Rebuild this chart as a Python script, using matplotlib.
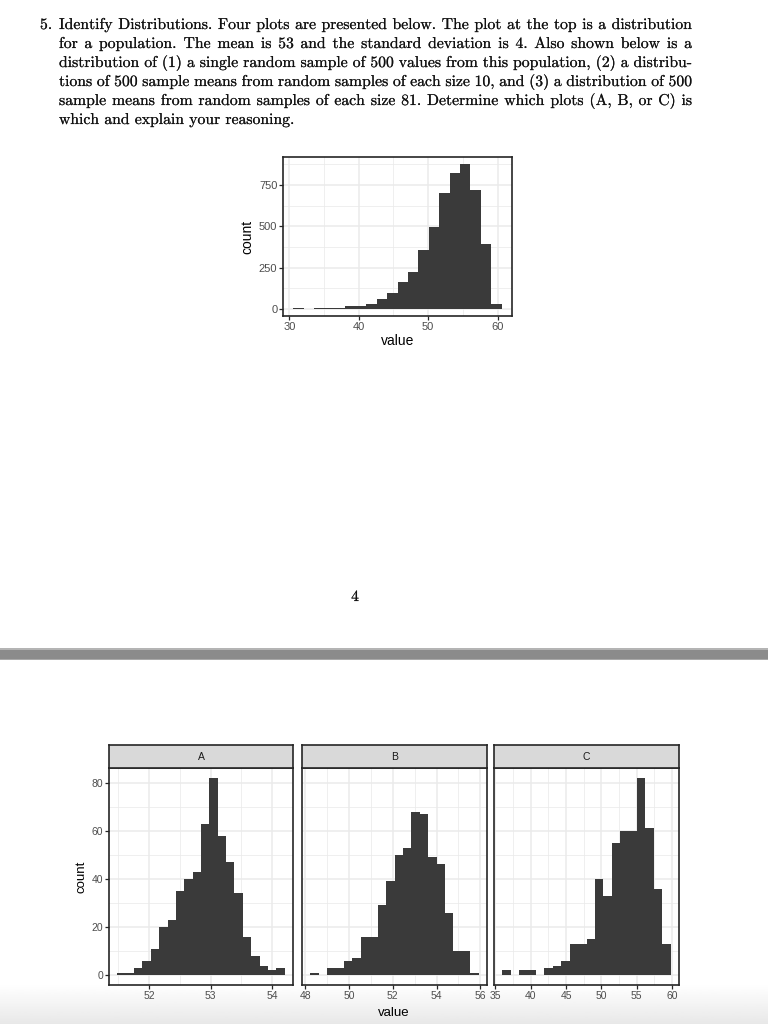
import matplotlib
matplotlib.use("Agg")
import matplotlib.pyplot as plt
from matplotlib.patches import Rectangle
from matplotlib.ticker import MultipleLocator
import matplotlib.patheffects as pe
import numpy as np

# ---------------- data ----------------
pop_counts = [4, 0, 2, 3, 6, 17, 18, 27, 62, 98, 164, 225, 357, 495, 704, 820, 876, 722, 393, 30]
pop_range = (30.58, 60.58)

A_counts = [1, 1, 3, 6, 11, 20, 23, 35, 40, 43, 63, 82, 58, 47, 34, 16, 8, 4, 2, 3]
A_range = (51.487, 54.203)
B_counts = [1, 0, 3, 3, 6, 7, 16, 16, 29, 39, 50, 53, 68, 67, 49, 46, 26, 10, 10, 1]
B_range = (48.23, 55.92)
C_counts = [2, 0, 2, 2, 0, 3, 4, 6, 13, 13, 15, 40, 33, 55, 60, 60, 82, 61, 36, 13]
C_range = (35.99, 59.79)

facet_labels = ["A", "B", "C"]
facet_counts = [A_counts, B_counts, C_counts]
facet_ranges = [A_range, B_range, C_range]
facet_major = [1, 2, 5]

first_label = "5."
doc_lines = [
    "Identify Distributions. Four plots are presented below. The plot at the top is a distribution",
    "for a population. The mean is 53 and the standard deviation is 4. Also shown below is a",
    "distribution of (1) a single random sample of 500 values from this population, (2) a distribu-",
    "tions of 500 sample means from random samples of each size 10, and (3) a distribution of 500",
    "sample means from random samples of each size 81. Determine which plots (A, B, or C) is",
    "which and explain your reasoning.",
]
page_number = "4"

# ---------------- figure ----------------
W, H = 768, 1024
fig = plt.figure(figsize=(W / 100, H / 100), dpi=100)
fig.patch.set_facecolor("white")

SERIF = ["cmr10", "DejaVu Serif"]
SANS = ["Liberation Sans", "DejaVu Sans"]
BAR = "#3a3a3a"
GRID = "#ebebeb"
BORDER = "#262626"
TICKLAB = "#4d4d4d"
BOLDEN = [pe.withStroke(linewidth=0.12, foreground="#202020")]


def ax_px(l, t, r, b, **kw):
    return fig.add_axes([l / W, 1 - b / H, (r - l) / W, (b - t) / H], **kw)


def fy(y):
    return 1 - y / H


def fx(x):
    return x / W


# bottom gradient
gax = fig.add_axes([0, 0, 1, (H - 984) / H], zorder=-5)
grad = np.linspace(0.91, 1.0, 60).reshape(-1, 1)
gax.imshow(grad, cmap="gray", vmin=0, vmax=1, aspect="auto", extent=[0, 1, 0, 1], origin="lower")
gax.set_axis_off()

# gray separator bar
fig.patches.append(Rectangle((0, fy(660)), 1, 12 / H, transform=fig.transFigure,
                             facecolor="#8b8b8b", edgecolor="none", zorder=-4))
fig.patches.append(Rectangle((0, fy(649.5)), 1, 1.6 / H, transform=fig.transFigure,
                             facecolor="#b4b4b4", edgecolor="none", zorder=-3))
fig.patches.append(Rectangle((0, fy(660)), 1, 1.5 / H, transform=fig.transFigure,
                             facecolor="#a9a9a9", edgecolor="none", zorder=-3))

# ---------------- document text ----------------
FS = 11.3
renderer = fig.canvas.get_renderer()
baselines = [29, 48, 67, 86, 105, 124]
x0, x1 = 59, 692


def doc_text(x, y, s, **kw):
    return fig.text(fx(x), fy(y), s, fontsize=FS, family=SERIF, va="baseline",
                    color="#111111", path_effects=BOLDEN, **kw)


doc_text(40, baselines[0], first_label, ha="left")
for i, line in enumerate(doc_lines):
    y = baselines[i]
    if i == len(doc_lines) - 1:
        doc_text(x0, y, line, ha="left")
        continue
    words = line.split(" ")
    texts = [doc_text(0, y, w, ha="left") for w in words]
    widths = [t.get_window_extent(renderer).width for t in texts]
    gap = (x1 - x0 - sum(widths)) / (len(words) - 1)
    x = x0
    for t, wd in zip(texts, widths):
        t.set_position((fx(x), fy(y)))
        x += wd + gap

doc_text(355, 601, page_number, ha="center")


def style_axes(ax, tick_fs, major_x, minor_x, major_y, minor_y):
    ax.set_facecolor("white")
    ax.xaxis.set_major_locator(MultipleLocator(major_x))
    ax.xaxis.set_minor_locator(MultipleLocator(minor_x))
    ax.yaxis.set_major_locator(MultipleLocator(major_y))
    ax.yaxis.set_minor_locator(MultipleLocator(minor_y))
    ax.grid(which="major", color=GRID, lw=1.1)
    ax.grid(which="minor", color=GRID, lw=0.55)
    ax.set_axisbelow(True)
    for s in ax.spines.values():
        s.set_color(BORDER)
        s.set_linewidth(1.2)
    ax.tick_params(which="major", length=2.6, width=0.9, color=BORDER, pad=1.5,
                   labelsize=tick_fs, labelcolor=TICKLAB)
    ax.tick_params(which="minor", length=0)
    for lab in ax.get_xticklabels() + ax.get_yticklabels():
        lab.set_family(SANS)


# ---------------- top histogram ----------------
ax = ax_px(283, 157, 512, 316)
edges = np.linspace(pop_range[0], pop_range[1], len(pop_counts) + 1)
ax.stairs(pop_counts, edges, fill=True, color=BAR, zorder=3)
span = pop_range[1] - pop_range[0]
ax.set_xlim(pop_range[0] - 0.05 * span, pop_range[1] + 0.05 * span)
ymax = max(pop_counts)
ax.set_ylim(-0.05 * ymax, 1.05 * ymax)
style_axes(ax, 8, 10, 5, 250, 125)
ax.set_xlabel("value", fontsize=10, family=SANS, labelpad=2)
ax.set_ylabel("count", fontsize=10, family=SANS, labelpad=3)

# ---------------- facets ----------------
panel_px = [(109, 293), (302, 487), (494, 679)]
fmax = max(max(c) for c in facet_counts)
axes = []
for k, ((l, r), lab, counts, rng, mj) in enumerate(zip(panel_px, facet_labels, facet_counts,
                                                     facet_ranges, facet_major)):
    a = ax_px(l, 768, r, 985)
    e = np.linspace(rng[0], rng[1], len(counts) + 1)
    a.stairs(counts, e, fill=True, color=BAR, zorder=3)
    sp = rng[1] - rng[0]
    a.set_xlim(rng[0] - 0.05 * sp, rng[1] + 0.05 * sp)
    a.set_ylim(-0.05 * fmax, 1.05 * fmax)
    style_axes(a, 7.5, mj, mj / 2, 20, 10)
    if k > 0:
        a.tick_params(axis="y", which="both", left=False, labelleft=False)
    # strip
    s = ax_px(l, 745, r, 768)
    s.set_facecolor("#d9d9d9")
    s.set_xticks([])
    s.set_yticks([])
    for sp_ in s.spines.values():
        sp_.set_color(BORDER)
        sp_.set_linewidth(1.2)
    s.text(0.5, 0.5, lab, transform=s.transAxes, ha="center", va="center",
           fontsize=7.5, family=SANS, color="#1a1a1a")
    axes.append(a)

axes[0].set_ylabel("count", fontsize=9.5, family=SANS, labelpad=3)
fig.text(fx(394), fy(1013), "value", fontsize=9.5, family=SANS, ha="center", va="center")

fig.savefig("out.png", dpi=100, facecolor="white")
